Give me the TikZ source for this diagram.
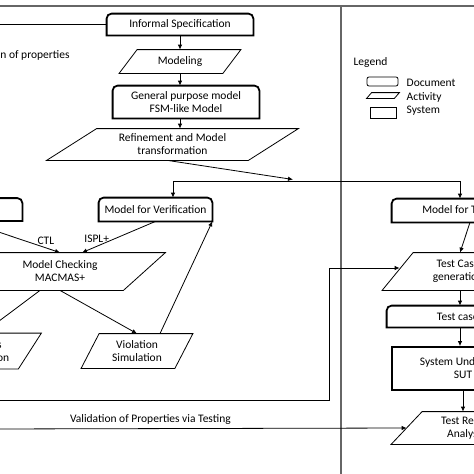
\documentclass[tikz,border=0pt]{standalone}
\usepackage{fontspec}
\setmainfont{Carlito}
\usepackage{tikz}
\usetikzlibrary{positioning}
\usetikzlibrary{arrows.meta}

\def\actlean{0pt}
\tikzset{
  lean/.code={\xdef\actlean{#1}},
  doc/.style={minimum width=#1, minimum height=21pt, inner sep=1pt, align=center,
    append after command={\pgfextra{\draw[line width=1.8pt]
      (\tikzlastnode.south west) -- ([yshift=-5pt]\tikzlastnode.north west)
      arc[start angle=180, end angle=90, radius=5pt]
      -- ([xshift=-5pt]\tikzlastnode.north east)
      arc[start angle=90, end angle=0, radius=5pt]
      -- (\tikzlastnode.south east) -- cycle;}}},
  act/.style={minimum width=#1, inner sep=1pt, align=center,
    append after command={\pgfextra{\draw[line width=0.8pt]
      ([xshift=-\actlean/2]\tikzlastnode.south west) -- ([xshift=\actlean/2]\tikzlastnode.north west)
      -- ([xshift=\actlean/2]\tikzlastnode.north east) -- ([xshift=-\actlean/2]\tikzlastnode.south east) -- cycle;}}},
  sys/.style={draw, line width=1.8pt, minimum width=#1, inner sep=1pt, align=center},
}

\begin{document}
\begin{tikzpicture}[x=1pt, y=1pt, font=\fontsize{11.5}{13}\selectfont, node distance=1cm, on grid,
    >={Latex[length=5pt,width=4.5pt]}, line width=0.8pt,
    frame/.style={draw=black!60, line width=1.3pt}]

  \useasboundingbox (0,0) rectangle (474,-474);

  % panes
  \draw[frame] (0,-6) -- (474,-6);
  \draw[frame] (341,-6) -- (341,-474);

  % modelling chain
  \node[doc=146pt] (spec) at (180,-24.5) {Informal Specification};
  \node[act=103pt, lean=18pt, minimum height=23pt] (modeling) [below=37pt of spec] {Modeling};
  \node[doc=146pt, minimum height=32pt] (gpm) [below=40.5pt of modeling, xshift=6pt] {General purpose model\\FSM-like Model};
  \node[act=201pt, lean=50pt, minimum height=31pt] (refine) [below=42.5pt of gpm, xshift=-13.5pt] {Refinement and Model\\transformation};
  \coordinate (split) at (293,-181);

  \node[anchor=east, inner sep=0pt] (vtitle) at (70,-55) {Verification of properties};

  % verification side
  \node[doc=113pt, minimum height=23pt] (mv) [below=65pt of refine, xshift=-17pt] {Model for Verification};
  \node[doc=113pt, minimum height=22pt] (lbox) [left=190pt of mv] {};
  \node[act=168pt, lean=42pt, minimum height=37pt] (mc) [below=62pt of mv, xshift=-95.5pt] {Model Checking\\MACMAS+};
  \node[act=93pt, lean=18pt, minimum height=34pt] (viol) [below=79.5pt of mc, xshift=77pt] {Violation\\Simulation};
  \node[act=93pt, lean=23pt, minimum height=35pt] (witness) [left=154pt of viol] {Witness\\Generation};

  % testing side
  \node[doc=142pt, minimum height=23pt] (mt) [right=307.5pt of mv, yshift=-1pt] {Model for Testing};
  \node[act=120pt, lean=31pt, minimum height=37pt] (tcg) [below=61pt of mt, xshift=-5pt] {Test Case\\generation};
  \node[doc=146pt] (tc) [below=45pt of tcg, xshift=2pt] {Test cases};
  \node[sys=142pt, minimum height=43pt] (sut) [below=52pt of tc, xshift=3pt] {System Under Test\\SUT};
  \node[act=118pt, lean=31pt, minimum height=32pt] (tra) [below=59.5pt of sut, xshift=3pt] {Test Result\\Analysis};

  % legend
  \node[] (legend) at (370.5,-62) {Legend};
  \node[draw, rounded corners=2pt, minimum width=31pt, minimum height=9pt, inner sep=0pt] (ldoc) at (382.5,-81.5) {};
  \node[act=27pt, lean=5pt, minimum height=5pt, inner sep=0pt] (lact) at (383,-95.5) {};
  \node[draw, minimum width=26pt, minimum height=11pt, inner sep=0pt] (lsys) at (383,-112.5) {};
  \node[anchor=west] (ldoctxt) at (403,-83) {Document};
  \node[anchor=west] (lacttxt) at (403,-97.5) {Activity};
  \node[anchor=west] (lsystxt) at (403,-111) {System};

  \coordinate (specin) at (-10,-24.5);
  \coordinate (verin) at (-10,-400);
  \coordinate (verturn) at (329,-400);
  \coordinate (valin) at (-10,-429);

  \path[->]
    (spec) edge (modeling)
    (modeling) edge ([xshift=-6pt]gpm.north)
    ([xshift=-6pt]gpm.south) edge ([xshift=7.5pt]refine.north)
    ([xshift=-5pt]refine.south) edge ([yshift=1.5pt]split)
    (lbox.south) edge node[pos=0.85, above] {CTL} (mc.north)
    (mv.south) edge node[pos=0.8, above] {ISPL+} ([xshift=22pt]mc.north)
    ([xshift=-20pt]mc.south) edge (witness.north)
    (mc.south) edge (viol.north)
    ([xshift=23pt]viol.north) edge (mv.south east)
    ([xshift=7pt]mt.south) edge ([xshift=2pt]tcg.north)
    ([xshift=2pt]tcg.south) edge (tc.north)
    (tc.south) edge ([xshift=-3pt]sut.north)
    (sut.south) edge ([xshift=-3pt]tra.north)
    ;
  \draw[->] (split) -| ([xshift=17.5pt]mv.north);
  \draw[->] (split) -| ([xshift=-3pt]mt.north);
  \draw (specin) -- (spec.west);
  \draw[->] (verin) -- (verturn) |- ([xshift=2pt,yshift=3.5pt]tcg.west);
  \draw[->] (valin) -- node[pos=0.385, above] {Validation of Properties via Testing} (tra.west);

\end{tikzpicture}
\end{document}
